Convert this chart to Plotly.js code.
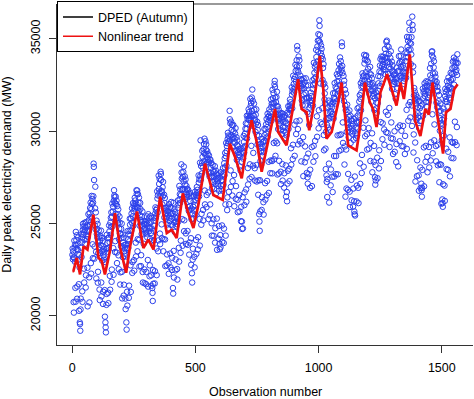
<!DOCTYPE html>
<html><head><meta charset="utf-8">
<script src="https://cdn.plot.ly/plotly-3.0.1.min.js"></script>
<style>html,body{margin:0;padding:0;background:#fff}#chart{width:474px;height:399px}</style>
</head><body><div id="chart"></div>
<script>
// Daily peak electricity demand (MW), one value per observation, one week per row
const demand = [
23300,23640,23060,23490,23170,20740,20170,
23140,24070,23680,22930,23850,21510,20760,
24540,23810,24090,23620,24360,20920,21580,
23010,23580,24240,23910,23330,21710,20270,
23280,22620,19640,19550,19190,20340,20930,
23690,24410,23180,23970,24240,21320,20750,
24640,24980,24400,24830,24510,22550,21800,
24110,25040,24650,23900,24820,21530,22190,
25070,24340,24620,24150,24890,22600,20510,
24270,24840,25500,25170,24590,22080,20720,
25570,24910,25840,25350,26130,22850,22280,
25770,26490,25260,26050,26320,23870,23120,
26130,26470,28240,28060,27350,23090,23750,
24890,25820,26990,24680,25600,23460,22020,
25150,24420,24700,24230,24970,21790,22380,
23390,23960,24620,24290,23710,21420,20850,
24050,23390,24320,23830,24610,21800,21050,
23490,24210,22980,23770,24040,20640,21300,
23280,23620,23040,23470,23150,21390,19950,
22910,19640,19370,19100,23620,20590,21180,
24390,23660,23940,23470,24210,21250,20680,
23660,24230,24890,24560,23980,22160,21410,
25040,24380,25310,24820,25600,21840,22500,
25360,26080,24850,25640,25910,23660,22220,
26230,26800,26510,26420,26100,23450,24040,
25520,26450,26060,25310,26230,23420,22850,
25940,25210,25490,25020,25760,23270,22520,
24140,24710,25370,25040,24460,21690,22350,
24430,23770,24700,24210,24990,22380,20940,
23680,24400,23170,23960,24230,21090,21680,
23490,23830,23250,23680,23360,20930,20360,
22930,23860,19640,19250,23640,21300,20550,
24590,23860,24140,23670,24410,20970,21630,
24030,24600,25260,24930,24350,22730,21290,
25260,24600,25530,25040,25820,22320,22910,
25380,26100,24870,25660,25930,23010,22440,
26050,26390,25810,26240,25920,23960,23210,
26070,26800,26600,25860,26780,23490,24150,
26580,25850,26130,25660,26400,24110,22670,
24880,25450,26110,25780,25200,22690,23280,
25090,24430,25360,24870,25650,22370,21800,
24410,25130,23900,24690,24960,22510,21760,
24750,25090,24510,24940,24620,21710,22370,
24450,25380,24990,24240,25160,23020,21580,
25500,24770,25050,24580,25320,22140,22730,
24160,24730,25390,25060,24480,22190,21620,
24730,24070,21500,21240,20800,22480,21730,
24600,25320,24090,24880,25150,21750,22410,
25530,25870,25290,25720,25400,23640,22200,
25810,26740,26350,25600,26520,23490,24080,
27590,26860,27140,26670,27410,24450,23880,
26450,27800,27680,27350,26770,24950,24200,
26690,26030,26960,26470,27250,23490,24150,
25830,26550,25320,26110,26380,24130,22690,
25510,25850,25270,25700,25380,22730,23320,
24940,25870,25480,24730,25650,22840,22270,
26040,25310,25590,25120,25860,23370,22620,
24930,25500,26160,25830,25250,22480,23140,
25560,24900,21500,21200,26120,23510,22070,
25050,25770,24540,25330,25600,22460,23050,
25090,25430,24850,25280,24960,22530,21960,
25310,26240,25850,25100,26020,23680,22930,
27030,26300,26580,26110,26850,23410,24070,
26530,28200,27760,27430,26850,25230,23790,
27520,26860,27790,27300,28080,24580,25170,
26830,27550,26320,27110,27380,24460,23890,
26680,27020,26440,26870,26550,24590,23840,
25890,26820,26430,25680,26600,23310,23970,
26670,25940,26220,25750,26490,24200,22760,
25230,25800,22300,21800,25550,23040,23630,
25910,25250,26180,25690,26470,23190,22620,
26000,26720,25490,26280,26550,24100,23350,
26630,26970,26390,26820,26500,23590,24250,
26670,27600,27210,26460,27380,25240,23800,
28290,27560,29500,27370,28110,24930,25520,
27700,28270,28930,28600,28020,25730,25160,
29030,28370,29300,28810,29590,26780,26030,
28730,29450,28220,29010,29280,25880,26540,
28570,28910,28330,28760,28440,26680,25240,
27760,28690,28300,27550,28470,25440,26030,
28450,27720,28000,27530,28270,25010,24340,
26930,27500,28160,27830,27250,25220,24330,
27540,26880,27810,27320,28100,23960,24740,
27140,27860,26630,27420,27690,25260,23570,
27280,27620,27040,27470,27150,24170,24860,
26770,27700,23900,23600,27480,24370,23700,
27770,27040,27320,26850,27590,24890,24000,
26770,27340,28000,27670,27090,23940,24720,
28260,27600,28530,28040,28820,26030,24340,
28640,29360,28130,28920,29190,25720,26410,
29570,29910,29330,29760,29440,26710,26040,
29710,31100,30640,29500,30420,27870,26980,
30510,29780,30060,29590,30330,26510,27290,
29100,29670,30330,30000,29420,27620,25930,
29600,28940,29870,29380,30160,26330,27020,
28950,29670,28440,29230,29500,26280,25610,
28840,29180,28600,29030,28710,26540,25650,
28080,29010,28620,27870,28790,25120,25900,
29070,28340,25100,24700,28890,26420,24730,
28510,29080,29740,29410,28830,25990,26680,
29860,29200,30130,29640,30420,26840,26170,
30110,30830,29600,30390,30660,28000,27110,
30840,31180,30600,31030,30710,27420,28200,
30810,31740,31350,30600,31520,29200,27510,
31820,31090,32250,30900,31640,28130,28820,
30260,30830,31490,31160,30580,27990,27320,
30620,29960,30890,30400,31180,28160,27270,
29780,30500,29270,30060,30330,26550,27330,
29410,29750,25500,25100,24600,27340,25650,
28380,29310,28920,28170,29090,25730,26420,
29590,28860,29140,28670,29410,26150,25480,
28890,29460,30120,29790,29210,27180,26290,
30100,29440,30370,29880,30660,26520,27300,
30220,30940,29710,30500,30770,28340,26650,
30830,31170,30590,31020,30700,27720,28410,
30780,31710,31320,30570,31490,28380,27710,
32240,31510,31790,31320,32060,29360,28470,
31490,32540,32720,32390,31810,28660,29440,
31570,30910,31840,31350,32130,29340,27650,
30620,31340,30110,30900,31170,27700,28390,
30660,31000,30420,30850,30530,27800,27130,
30050,30980,30590,29840,30760,28210,27320,
30940,30210,30490,30020,30760,26940,27720,
29620,30190,30850,30520,29940,28140,26450,
30430,29770,26700,26200,30990,27160,27850,
30630,31350,30120,30910,31180,27960,27290,
31370,31710,31130,31560,31240,29070,28180,
31440,32370,31980,31230,32150,28480,29260,
33000,32270,32550,32080,32820,30350,28660,
32360,32930,33590,33260,32680,29840,30530,
33840,33500,34600,34400,33300,30110,29280,
33180,34040,32570,33510,33840,30570,29460,
32600,33000,32310,32820,32440,28360,29340,
31660,32780,32310,31410,32520,29670,27560,
32850,31980,32310,31750,32640,28310,29170,
31390,32070,32860,32470,31770,28560,27730,
31810,31020,27500,27150,32480,28780,27670,
30940,31800,30330,31270,31600,26930,27910,
31680,32080,31390,31900,31520,29130,27020,
31630,32750,32280,31380,32490,28340,29200,
33700,32830,33160,32600,33490,29470,28640,
32930,33610,34400,34010,33310,30800,29690,
34580,33790,34900,34310,35250,30150,31130,
34900,36000,35700,35200,34800,32580,30470,
34230,34630,33940,34450,34070,30380,31240,
32770,33890,33420,32520,33630,29790,28960,
32580,31710,32040,31480,32370,29050,27940,
29960,30640,27600,27250,30340,26430,27410,
30980,30190,31300,30710,31650,28240,26130,
30680,31540,30070,31010,31340,27060,27920,
31070,31470,30780,31290,30910,27530,26700,
30930,32050,31580,30680,31790,28650,27540,
32600,31730,32060,31500,32390,27670,28650,
31610,32290,33080,32690,31990,29770,27660,
32970,32180,33290,32700,33640,28930,29790,
33130,33990,32520,33460,33790,29820,28990,
33310,34800,34600,33530,33150,30470,29360,
31870,32990,32520,31620,32730,28190,29170,
32240,31370,26450,31140,32030,29000,26890,
29960,30640,31430,31040,30340,26820,27680,
30450,29660,30770,30180,31120,26720,25890,
29970,30830,29360,30300,30630,27360,26250,
30150,30550,29860,30370,29990,25910,26890,
29530,30650,26200,25650,25500,27540,25430,
30730,29860,30190,29630,30520,26190,27050,
29760,30440,31230,30840,30140,26930,26100,
31280,30490,31600,31010,31950,28250,27140,
31740,32600,31130,32070,32400,27730,28710,
32730,33130,32440,32950,32570,30180,28070,
33010,34130,33660,32760,33870,29720,30580,
34060,33190,34100,32960,33850,29830,29000,
32290,32970,33760,33370,32670,30160,29050,
32810,32020,33130,32540,33480,28380,29360,
32200,33060,31590,32530,32860,29880,27770,
32190,32590,31900,32410,32030,28340,29200,
31140,32260,31790,27500,27100,28160,27330,
32090,31220,31550,30990,31880,28560,27450,
31510,32190,32980,32590,31890,27980,28960,
33230,32440,33550,32960,33900,30490,28380,
33180,34040,32570,33510,33840,29560,30420,
33630,34030,33340,33850,33470,30090,29260,
33330,34450,33980,33080,34190,31050,29940,
34830,33960,34900,33730,34620,29900,30880,
33090,33770,34560,34170,33470,31250,29140,
33650,32860,33970,33380,34320,29610,30470,
32900,33760,32290,33230,33560,29590,28760,
32830,33230,32540,33050,32670,29990,28880,
32000,33120,32650,31750,32860,28320,29300,
33440,32570,32900,32340,33230,30200,28090,
32590,33270,34060,33670,32970,29450,30310,
33750,32960,34070,33480,34420,30020,29190,
32890,33750,32280,33220,33550,30280,29170,
33000,33400,32710,33220,32840,28760,29740,
33140,34260,33790,32890,34000,31150,29040,
35100,34230,34560,34000,34890,30560,31420,
34400,35080,35870,35480,34780,31570,30740,
34420,33630,34740,34150,35090,31390,30280,
36200,35750,35480,33180,33510,28840,29820,
31930,32330,31640,32150,31770,29380,27270,
30850,31970,31500,30600,31710,27560,28420,
31830,30960,31290,30730,31620,27600,26770,
30160,30840,31630,31240,30540,28030,26920,
31350,30560,27150,26800,26450,26920,27900,
31440,32300,30830,31770,32100,29120,27010,
32190,32590,31900,32410,32030,28340,29200,
31580,32700,32230,31330,32440,28600,27770,
32670,31800,32130,31570,32460,29140,28030,
31940,32620,33410,33020,32320,28410,29390,
33650,32860,34300,34100,34320,30910,28800,
33120,33980,32510,33450,33780,29500,30360,
32730,33130,32440,32950,32570,29190,28360,
31540,32660,32190,31290,32400,29260,28150,
32160,31290,31620,31060,31950,27230,28210,
30020,30700,31490,31100,30400,28180,26070,
30300,29510,30620,26300,26100,25900,27120,
30360,31220,29750,30690,31020,27050,26220,
31890,32290,31600,32110,31730,29050,27940,
31580,32700,32230,31330,32440,27900,28880,
32900,32030,32360,31800,32690,29660,27550,
31690,32370,33160,32770,32070,28550,29410,
33090,32300,33410,32820,33760,29360,28530,
33120,33980,32510,33450,33780,30510,29400,
33480,33880,33190,33700,33320,29240,30220,
33040,34160,33690
];
// Nonlinear trend (observation number, MW)
const trendObs = [1,5,19,32,46,62,86,107,120,133,153,174,195,219,234,263,289,309,330,357,384,404,424,449,471,492,512,539,573,611,640,661,688,715,728,749,769,796,823,836,870,890,917,931,951,962,978,1005,1019,1032,1053,1080,1093,1120,1154,1167,1188,1208,1221,1235,1251,1278,1302,1316,1332,1346,1370,1392,1413,1433,1447,1462,1505,1517,1535,1550,1564];
const trendMW = [22400,22420,23130,22240,23760,23590,25470,23130,22960,22240,23490,25550,23670,22330,23670,25650,23670,24120,23590,26450,24480,24650,24210,26630,25550,24750,26000,28240,26540,26270,29320,28600,27440,29770,30580,29410,27800,29590,31200,29950,29230,30800,32810,31200,31020,30040,31200,34070,32270,29590,29950,31560,32630,29230,28960,30120,32630,31560,31200,30220,32100,33080,31920,31380,32630,31740,34150,30540,29730,31200,30900,32630,28780,31020,31200,32270,32540];
const seriesNames = ['DPED (Autumn)', 'Nonlinear trend'];
const xTicks = [0, 500, 1000, 1500];
const yTicks = [20000, 25000, 30000, 35000];
const xTitle = 'Observation number';
const yTitle = 'Daily peak electricity demand (MW)';

const obs = demand.map((_, i) => i + 1);
const FONT = 'Liberation Sans, Arial, Helvetica, sans-serif';
const BLUE = 'rgb(45,65,235)';
const RED = '#ee1111';

const traces = [
  {type:'scatter', mode:'markers', x:obs, y:demand, showlegend:false, hoverinfo:'skip',
   marker:{symbol:'circle-open', size:5.5, color:BLUE, line:{color:BLUE, width:1}}},
  {type:'scatter', mode:'lines', x:trendObs, y:trendMW, showlegend:false, hoverinfo:'skip',
   line:{color:RED, width:2.7}},
  {type:'scatter', mode:'lines', x:[null], y:[null], name:seriesNames[0], line:{color:'black', width:1.5}},
  {type:'scatter', mode:'lines', x:[null], y:[null], name:seriesNames[1], line:{color:RED, width:1.5}}
];

const axisCommon = {
  showgrid:false, zeroline:false, showline:true, linecolor:'#333', linewidth:1,
  ticks:'outside', ticklen:7, tickcolor:'#333', tickwidth:1, ticklabelstandoff:4,
  tickfont:{family:FONT, size:12.5, color:'black'}
};

const layout = {
  width:474, height:399,
  margin:{l:57, r:1, t:1, b:54},
  paper_bgcolor:'white', plot_bgcolor:'white',
  font:{family:FONT, size:12.5, color:'black'},
  xaxis:Object.assign({}, axisCommon, {
    range:[-61.5, 1626.5], tickvals:xTicks, ticktext:xTicks.map(String)
  }),
  yaxis:Object.assign({}, axisCommon, {
    range:[18416, 36884], tickvals:yTicks, ticktext:yTicks.map(String), tickangle:-90,
    title:{text:yTitle, font:{family:FONT, size:12.5}, standoff:14}
  }),
  annotations:[{xref:'paper', yref:'paper', x:0.5, y:-0.11, xanchor:'center', yanchor:'top',
    text:xTitle, showarrow:false, font:{family:FONT, size:12.5, color:'black'}}],
  legend:{x:0, y:1.008, xanchor:'left', yanchor:'top', bgcolor:'white', bordercolor:'black', borderwidth:1,
    font:{family:FONT, size:12.5}},
  shapes:[{type:'line', xref:'paper', yref:'paper', x0:0, x1:1, y0:1, y1:1, line:{color:'#999', width:2}}]
};

Plotly.newPlot('chart', traces, layout, {staticPlot:true, displayModeBar:false});
</script>
</body></html>
